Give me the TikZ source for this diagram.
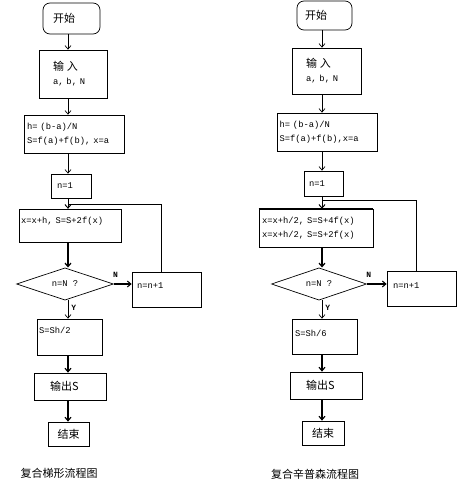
\documentclass[tikz,border=0pt]{standalone}
\usepackage{fontspec}
\setmainfont{Liberation Mono}
\newfontfamily\cjk{Noto Sans CJK SC}
\newcommand\hanzi[1]{{\cjk\fontsize{11}{13}\selectfont #1}}
\usetikzlibrary{shapes.geometric,arrows.meta}

\begin{document}
\begin{tikzpicture}[x=1pt,y=-1pt,
  every node/.style={font=\fontsize{8.8}{14}\selectfont},
  box/.style={draw, rectangle, align=left, inner ysep=2pt, line width=0.7pt},
  terminal/.style={box, rounded corners=7pt},
  test/.style={draw, diamond, inner sep=0pt, minimum width=97pt, minimum height=30pt, line width=0.7pt},
  arr/.style={-{Straight Barb[length=3.5pt,width=6pt]}, line width=0.7pt},
  lbl/.style={font=\bfseries\fontsize{8}{10}\selectfont, inner sep=1pt},
  caption/.style={font=\cjk\fontsize{11}{13}\selectfont}]

\useasboundingbox (0,0) rectangle (474,497);

% organigramme de gauche : trapezes
\node[terminal, text width=37pt, inner xsep=10pt, minimum height=31pt] (startL) at (71.5,18.5) {\hanzi{开始}};
\node[box, text width=40pt, inner xsep=14pt, minimum height=48pt] (inL) at (73,74) {\hanzi{输 入}\\a, b, N};
\node[box, text width=94pt, inner xsep=3pt, minimum height=38pt] (initL) at (74,134) {h= (b-a)/N\\S=f(a)+f(b), x=a};
\node[box, text width=28pt, inner xsep=6pt, minimum height=24pt] (oneL) at (71,186) {n=1};
\node[box, text width=98pt, inner xsep=2pt, minimum height=33pt, text height=6pt, text depth=11pt] (bodyL) at (70,225.5) {x=x+h, S=S+2f(x)};
\node[test] (testL) at (65,284) {n=N ?};
\node[box, text width=59pt, inner xsep=5pt, minimum height=35pt, text height=6pt, text depth=9pt] (incL) at (166.5,289.5) {n=n+1};
\node[box, text width=61pt, inner xsep=2pt, minimum height=36pt, text height=6pt, text depth=14pt] (sumL) at (69.5,337) {S=Sh/2};
\node[box, text width=40pt, inner xsep=16pt, minimum height=27pt] (outL) at (70,386.5) {\hanzi{输出S}};
\node[box, text width=37pt, inner xsep=2pt, minimum height=24pt, align=center] (endL) at (68.5,434) {\hanzi{结束}};
\node[caption] (capL) at (59,473) {复合梯形流程图};

% organigramme de droite : Simpson
\node[terminal, text width=39pt, inner xsep=8pt, minimum height=29pt] (startR) at (324.5,15.5) {\hanzi{开始}};
\node[box, text width=41pt, inner xsep=14pt, minimum height=46pt] (inR) at (326.5,71) {\hanzi{输 入}\\a, b, N};
\node[box, text width=95pt, inner xsep=2.5pt, minimum height=38pt] (initR) at (327,132) {h= (b-a)/N\\S=f(a)+f(b),x=a};
\node[box, text width=29pt, inner xsep=5pt, minimum height=25pt] (oneR) at (323.5,183.5) {n=1};
\node[box, text width=108pt, inner xsep=3pt, minimum height=38pt] (bodyR) at (316,228) {x=x+h/2, S=S+4f(x)\\x=x+h/2, S=S+2f(x)};
\node[test, minimum width=95pt] (testR) at (319,284) {n=N ?};
\node[box, text width=57pt, inner xsep=6pt, minimum height=35pt, text height=6pt, text depth=7pt] (incR) at (421.5,288.5) {n=n+1};
\node[box, text width=59pt, inner xsep=3pt, minimum height=35pt, text height=6pt, text depth=7pt] (sumR) at (324.5,336.5) {S=Sh/6};
\node[box, text width=40pt, inner xsep=16pt, minimum height=27pt] (outR) at (326,385.5) {\hanzi{输出S}};
\node[box, text width=38pt, inner xsep=2pt, minimum height=24pt, align=center] (endR) at (323,433) {\hanzi{结束}};
\node[caption] (capR) at (315,474) {复合辛普森流程图};

\draw[line width=1.6pt] (bodyR.north west) -- (bodyR.north east);

\coordinate (colL) at (68,0);
\coordinate (colR) at (322,0);
\coordinate (loopL) at (68,204);
\coordinate (loopR) at (322,200);

\foreach \s in {L,R} % fleches verticales
{
	\foreach \a/\b/\w in {start/in/0.7, in/init/0.7, init/one/0.7, one/body/0.7, body/test/1.2, sum/out/1.2, out/end/1.2}
		\draw[arr, line width=\w pt] (\a\s.south -| col\s) -- (\b\s.north -| col\s);

	\draw[arr, line width=1.1pt] (test\s.east) -- (test\s.east -| inc\s.west) node[lbl, pos=0.1, above=5pt] {N};
	\draw[arr] (test\s.south -| col\s) -- (sum\s.north -| col\s) node[lbl, pos=0.4, right=2pt] {Y};
	\draw[arr] ([xshift=-5pt]inc\s.north) |- (loop\s) -- (loop\s |- body\s.north);
}

\end{tikzpicture}
\end{document}
